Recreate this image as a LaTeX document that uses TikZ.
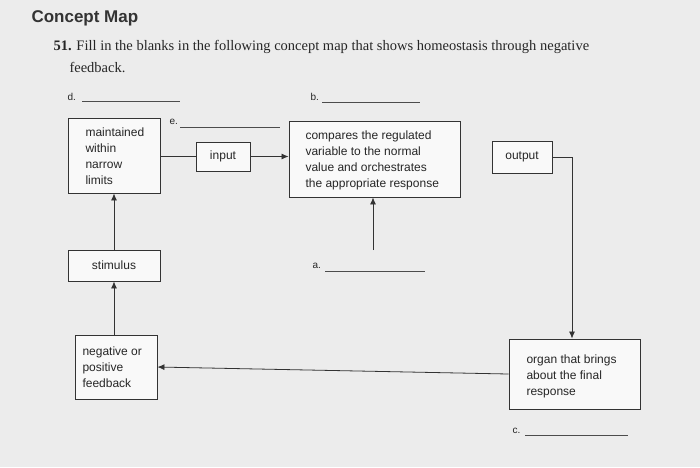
\documentclass[tikz,border=0pt]{standalone}
\usepackage{fontspec}
\setmainfont{Liberation Serif}
\setsansfont{Liberation Sans}
\usetikzlibrary{arrows.meta}
\begin{document}
\begin{tikzpicture}[x=1pt,y=-1pt,
  box/.style={draw=black!80,line width=0.9pt,fill=white!95!gray,inner sep=0pt},
  txt/.style={font=\sffamily\fontsize{12}{16}\selectfont,align=left,anchor=north west,text=black!85},
  conn/.style={line width=0.8pt,draw=black!80},
  arr/.style={conn,-{Latex[length=7pt,width=6pt]}},
  blank/.style={line width=0.5pt,draw=black!70}]
\useasboundingbox[fill=gray!15] (0,0) rectangle (700,467);
\node[anchor=west,font=\sffamily\bfseries\fontsize{17}{20}\selectfont,text=black!80] (title) at (28,18) {Concept Map};
\node[anchor=north west,font=\fontsize{14.5}{22}\selectfont,align=left,text=black!85] (q) at (50,37) {\textbf{51.} Fill in the blanks in the following concept map that shows homeostasis through negative\\ \hspace*{16pt}feedback.};
% boxes
\node[box,minimum width=92pt,minimum height=75pt] (m) at (114,155.5) {};
\node[txt] at (82,124) {maintained\\within\\narrow\\limits};
\node[box,minimum width=54pt,minimum height=29pt] (in) at (223,156.5) {};
\node[txt,anchor=center] at (in) {input};
\node[box,minimum width=171pt,minimum height=76pt] (cmp) at (374.5,159) {};
\node[txt] at (302,127) {compares the regulated\\variable to the normal\\value and orchestrates\\the appropriate response};
\node[box,minimum width=60pt,minimum height=32pt] (out) at (522,157) {};
\node[txt,anchor=center] at (out) {output};
\node[box,minimum width=92pt,minimum height=31pt] (st) at (114,265.5) {};
\node[txt,anchor=center] at (st) {stimulus};
\node[box,minimum width=82pt,minimum height=64pt] (neg) at (116,367) {};
\node[txt] at (79,343) {negative or\\positive\\feedback};
\node[box,minimum width=131pt,minimum height=70pt] (org) at (574.5,374) {};
\node[txt] at (523,351) {organ that brings\\about the final\\response};
% connectors
\draw[conn] (m.east |- in.west) -- (in.west);
\draw[arr] (in.east) -- (in.east -| cmp.west);
\coordinate (c1) at (572,157);
\draw[arr] (out.east) -- (c1) -- (c1 |- org.north);
\coordinate (a0) at (373,250);
\draw[arr] (a0) -- (a0 |- cmp.south);
\draw[arr] (st.north) -- (st.north |- m.south);
\draw[arr] (st.south |- neg.north) -- (st.south);
\draw[arr] (org.west) -- (neg.east);
% blanks
\node[txt,anchor=west,font=\sffamily\fontsize{10}{12}\selectfont] (d) at (64,97) {d.};
\draw[blank] (82,101) -- (180,101);
\node[txt,anchor=west,font=\sffamily\fontsize{10}{12}\selectfont] (b) at (307,97) {b.};
\draw[blank] (322,102) -- (420,102);
\node[txt,anchor=west,font=\sffamily\fontsize{10}{12}\selectfont] (e) at (166,122) {e.};
\draw[blank] (180,127) -- (280,127);
\node[txt,anchor=west,font=\sffamily\fontsize{10}{12}\selectfont] (a) at (309,266) {a.};
\draw[blank] (325,271) -- (425,271);
\node[txt,anchor=west,font=\sffamily\fontsize{10}{12}\selectfont] (c) at (509,431) {c.};
\draw[blank] (525,435) -- (628,435);
\end{tikzpicture}
\end{document}
